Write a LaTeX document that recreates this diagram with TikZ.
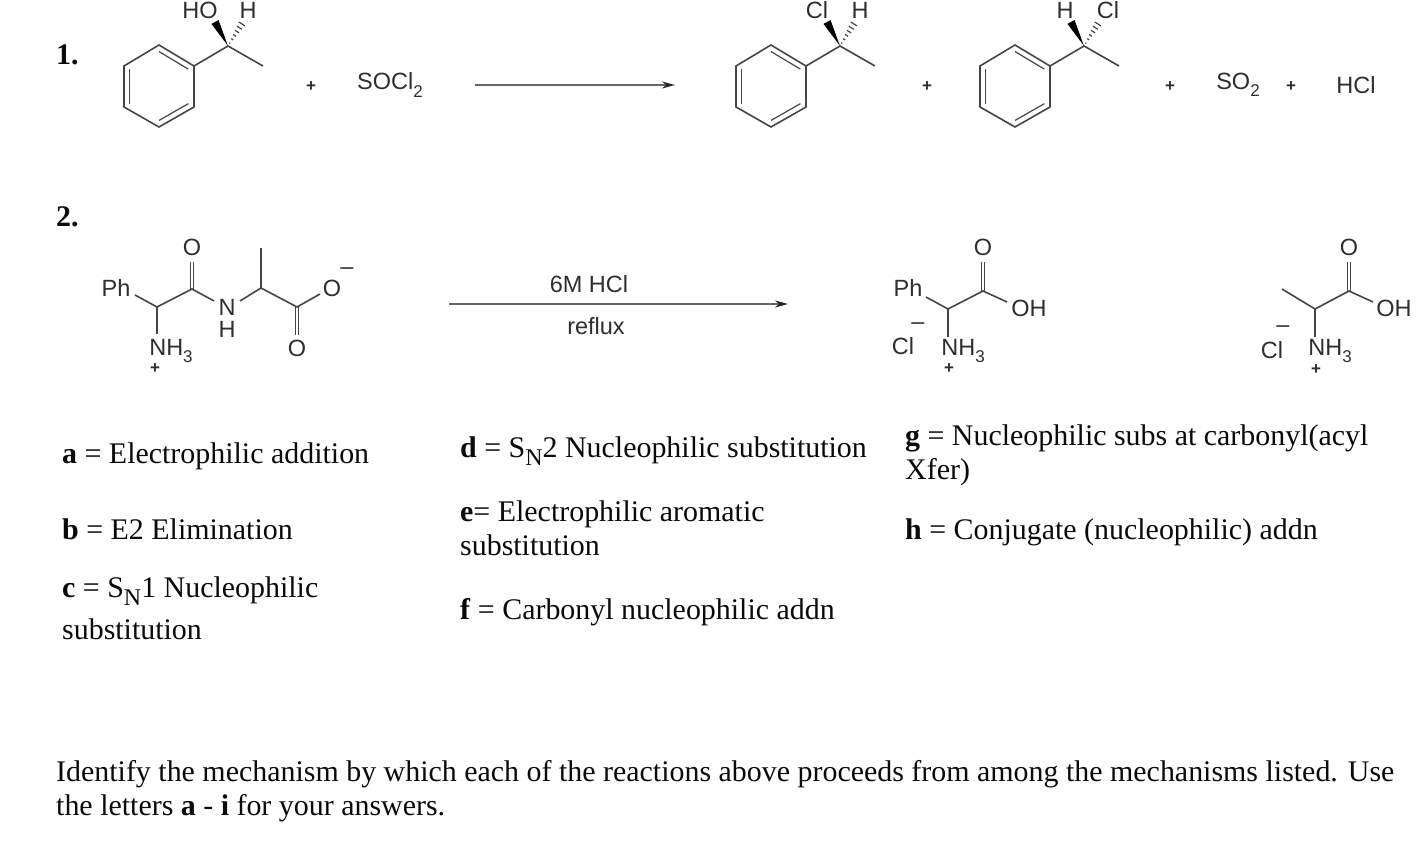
\documentclass[tikz,border=0pt]{standalone}
\usepackage{fontspec}
\setmainfont{Liberation Serif}
\newfontfamily\chemfont{Liberation Sans}
\usetikzlibrary{calc,arrows.meta}
\definecolor{bondc}{HTML}{454545}
\definecolor{arrowc}{HTML}{666666}
\definecolor{chemc}{HTML}{2E2E2E}
\definecolor{textc}{HTML}{0A0A0A}
\newcommand\chemsub[1]{\raisebox{-0.3em}{\fontsize{17}{17}\selectfont #1}}
\newcommand\lowr[1]{\raisebox{-0.3em}{\fontsize{24}{24}\selectfont #1}}
\tikzset{
  bond/.style={draw=bondc,line width=1.6pt},
  thinbond/.style={draw=bondc,line width=1.2pt},
  chem/.style={inner sep=0pt,text=chemc,font=\chemfont\fontsize{23.5}{23.5}\selectfont},
  charge/.style={inner sep=0pt,text=chemc,font=\chemfont\bfseries\fontsize{17}{17}\selectfont},
  body/.style={anchor=base west,inner sep=0pt,text=textc,font=\fontsize{29.93}{34}\selectfont},
  rxnarrow/.style={draw=arrowc,line width=1.6pt,-{Stealth[length=13pt,width=7pt,color=black!85]}}
}
% benzene + stereocentre + methyl: #1 prefix, #2 x shift
\newcommand\phenylethyl[2]{
  \begin{scope}[xshift=#2]
    \coordinate (#1a) at (159,45); \coordinate (#1b) at (194,66);
    \coordinate (#1c) at (194,107); \coordinate (#1d) at (159,127);
    \coordinate (#1e) at (124,107); \coordinate (#1f) at (124,66);
    \coordinate (#1o) at (159,86);
    \coordinate (#1s) at (228,46); \coordinate (#1m) at (263,66);
    \coordinate (#1w) at (215,22); \coordinate (#1h) at (243,22);
  \end{scope}
  \draw[bond,line join=miter] (#1a)--(#1b)--(#1c)--(#1d)--(#1e)--(#1f)--cycle;
  \draw[thinbond] ($(#1o)!.84!(#1a)$)--($(#1o)!.84!(#1b)$);
  \draw[thinbond] ($(#1o)!.84!(#1c)$)--($(#1o)!.84!(#1d)$);
  \draw[thinbond] ($(#1o)!.84!(#1e)$)--($(#1o)!.84!(#1f)$);
  \draw[bond] (#1b)--(#1s)--(#1m);
}
\newcommand\wedgeb[2]{\fill[black] (#1)--($(#2)!4pt!90:(#1)$)--($(#2)!-4pt!90:(#1)$)--cycle;}
\newcommand\hashb[2]{
  \foreach \t/\w in {.12/.6,.28/1.2,.44/1.8,.60/2.4,.76/3,.92/3.6}{
    \draw[bondc,line width=1.2pt] ($(#1)!\t!(#2)!\w pt!90:(#2)$)--($(#1)!\t!(#2)!-\w pt!90:(#2)$);
  }
}
\begin{document}
\begin{tikzpicture}[x=1pt,y=-1pt]
\useasboundingbox (0,0) rectangle (1416,858);
\fill[white] (0,0) rectangle (1416,858);

% Reaction 1
\node[body,font=\bfseries\fontsize{29.93}{34}\selectfont] (n1) at (56,65) {1.};
\phenylethyl{p}{0pt}
\wedgeb{ps}{pw}\hashb{ps}{ph}
\node[chem] (ho) at (200,10) {HO};
\node[chem] (hA) at (248,10) {H};
\node[charge] (plusA) at (311,87) {+};
\node[chem] (socl) at (390,85) {SOCl\chemsub{2}};
\coordinate (a1s) at (475,85); \coordinate (a1e) at (675,85);
\draw[rxnarrow] (a1s)--(a1e);
\phenylethyl{q}{612pt}
\wedgeb{qs}{qw}\hashb{qs}{qh}
\node[chem] (clB) at (817,10) {Cl};
\node[chem] (hB) at (860,10) {H};
\node[charge] (plusB) at (927,87) {+};
\phenylethyl{r}{856pt}
\wedgeb{rs}{rw}\hashb{rs}{rh}
\node[chem] (hC) at (1065,10) {H};
\node[chem] (clC) at (1108,10) {Cl};
\node[charge] (plusC) at (1170,87) {+};
\node[chem] (so2) at (1238,85) {SO\chemsub{2}};
\node[charge] (plusD) at (1291,87) {+};
\node[chem] (hcl) at (1356,85) {HCl};

% Reaction 2, reactant
\node[body,font=\bfseries\fontsize{29.93}{34}\selectfont] (n2) at (56,227) {2.};
\coordinate (dA) at (135,295); \coordinate (dB) at (157,307); \coordinate (dC) at (192,289);
\coordinate (dO) at (192,262); \coordinate (dN) at (214,301); \coordinate (dN2) at (240,301);
\coordinate (dD) at (261,288); \coordinate (dM) at (261,248); \coordinate (dE) at (297,307);
\coordinate (dO2) at (297,335); \coordinate (dF) at (320,294); \coordinate (dG) at (157,334);
\draw[bond] (dA)--(dB)--(dC)--(dN);
\draw[bond] (dN2)--(dD)--(dE)--(dF);
\draw[bond] (dD)--(dM);
\draw[bond] (dB)--(dG);
\draw[thinbond] ([xshift=-1.8pt]dC)--([xshift=-1.8pt]dO);
\draw[thinbond] ([xshift=1.8pt]dC)--([xshift=1.8pt]dO);
\draw[thinbond] ([xshift=-1.8pt]dE)--([xshift=-1.8pt]dO2);
\draw[thinbond] ([xshift=1.8pt]dE)--([xshift=1.8pt]dO2);
\node[chem] (ph1) at (116,288) {Ph};
\node[chem] (o1) at (192,247) {O};
\node[chem] (nn) at (227,307) {N};
\node[chem] (nh) at (227,329) {H};
\node[chem] (o2) at (297,348) {O};
\node[chem] (o3) at (332,288) {O};
\node[chem] (om) at (347,271) {–};
\node[chem] (nh1) at (171,351) {NH\chemsub{3}};
\node[charge] (np1) at (155,369) {+};

% Arrow
\coordinate (a2s) at (449,304); \coordinate (a2e) at (788,304);
\draw[rxnarrow] (a2s)--(a2e);
\node[chem] (hcl2) at (589,284) {6M HCl};
\node[chem] (reflux) at (596,326) {reflux};

% Product 1
\coordinate (eA) at (926,297); \coordinate (eB) at (948,309); \coordinate (eC) at (983,291);
\coordinate (eO) at (983,262); \coordinate (eH) at (1007,302); \coordinate (eG) at (948,337);
\draw[bond] (eA)--(eB)--(eC)--(eH);
\draw[bond] (eB)--(eG);
\draw[thinbond] ([xshift=-1.8pt]eC)--([xshift=-1.8pt]eO);
\draw[thinbond] ([xshift=1.8pt]eC)--([xshift=1.8pt]eO);
\node[chem] (ph2) at (908,288) {Ph};
\node[chem] (o4) at (983,247) {O};
\node[chem] (oh1) at (1029,308) {OH};
\node[chem] (cl1) at (903,346) {Cl};
\node[chem] (clm1) at (918,326) {–};
\node[chem] (nh2) at (963,351) {NH\chemsub{3}};
\node[charge] (np2) at (949,369) {+};

% Product 2
\coordinate (fA) at (1282,289); \coordinate (fB) at (1315,309); \coordinate (fC) at (1349,291);
\coordinate (fO) at (1349,262); \coordinate (fH) at (1373,302); \coordinate (fG) at (1315,337);
\draw[bond] (fA)--(fB)--(fC)--(fH);
\draw[bond] (fB)--(fG);
\draw[thinbond] ([xshift=-1.8pt]fC)--([xshift=-1.8pt]fO);
\draw[thinbond] ([xshift=1.8pt]fC)--([xshift=1.8pt]fO);
\node[chem] (o5) at (1349,247) {O};
\node[chem] (oh2) at (1394,308) {OH};
\node[chem] (cl2) at (1272,350) {Cl};
\node[chem] (clm2) at (1283,329) {–};
\node[chem] (nh3) at (1330,351) {NH\chemsub{3}};
\node[charge] (np3) at (1316,370) {+};

% Mechanism list
\node[body] (ta) at (62,463) {\textbf{a} = Electrophilic addition};
\node[body] (tb) at (62,539) {\textbf{b} = E2 Elimination};
\node[body] (tc) at (62,597) {\textbf{c} = S\lowr{N}1 Nucleophilic};
\node[body] (tc2) at (62,639) {substitution};
\node[body] (td) at (460,457) {\textbf{d} = S\lowr{N}2 Nucleophilic substitution};
\node[body] (te) at (460,521) {\textbf{e}= Electrophilic aromatic};
\node[body] (te2) at (460,555) {substitution};
\node[body] (tf) at (460,619) {\textbf{f} = Carbonyl nucleophilic addn};
\node[body] (tg) at (905,445) {\textbf{g} = Nucleophilic subs at carbonyl(acyl};
\node[body] (tg2) at (905,479) {Xfer)};
\node[body] (th) at (905,539) {\textbf{h} = Conjugate (nucleophilic) addn};
\node[body] (q1) at (56,781) {Identify the mechanism by which each of the reactions above proceeds from among the mechanisms listed. Use};
\node[body] (q2) at (56,815) {the letters \textbf{a} - \textbf{i} for your answers.};
\end{tikzpicture}
\end{document}
